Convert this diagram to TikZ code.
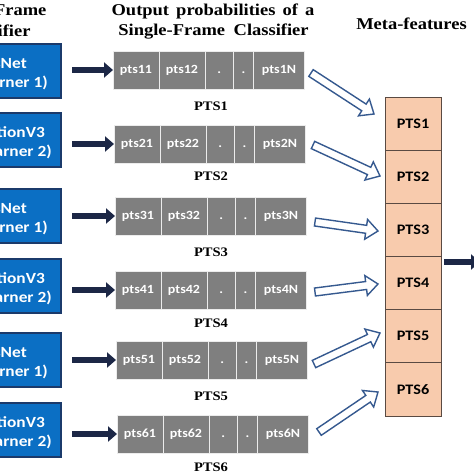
\documentclass[tikz,border=0pt]{standalone}
\usepackage{fontspec}
\setmainfont[FakeStretch=1.12]{Liberation Serif}
\newfontfamily\calfont[FakeStretch=1.12]{Carlito}
\usetikzlibrary{calc,arrows.meta}
\definecolor{boxblue}{HTML}{0B6FC4}
\definecolor{boxedge}{HTML}{1B3A6B}
\definecolor{cellgray}{HTML}{7F7F7F}
\definecolor{peach}{HTML}{F8CBAD}
\definecolor{peachedge}{HTML}{5A4A42}
\definecolor{navy}{HTML}{1C2746}
\definecolor{arrowblue}{HTML}{35598F}
\newcommand{\hollowarr}[2]{%
  \coordinate (#1hb) at ($(#2)!12pt!(#1)$);
  \draw[hollow] ($(#1)!4pt!90:(#2)$) -- ($(#1hb)!4pt!90:(#2)$) -- ($(#1hb)!10pt!90:(#2)$)
    -- (#2) -- ($(#1hb)!10pt!-90:(#2)$) -- ($(#1hb)!4pt!-90:(#2)$) -- ($(#1)!4pt!-90:(#2)$) -- cycle;}
\begin{document}
\begin{tikzpicture}[x=1pt,y=-1pt,
  ttl/.style={font=\bfseries\fontsize{16.5}{18}\selectfont, anchor=base, inner sep=0},
  bbox/.style={draw=boxedge, line width=1.2pt, fill=boxblue, minimum width=121pt, minimum height=54pt, inner sep=0},
  btext/.style={font=\calfont\bfseries\fontsize{15.5}{17}\selectfont, text=white, anchor=base east, inner sep=0},
  cell/.style={draw=white!85!gray, line width=0.8pt, fill=cellgray, text=white, minimum height=38pt, inner sep=0, outer sep=0, anchor=west, text height=9pt, text depth=3pt, font=\calfont\bfseries\fontsize{12.5}{14}\selectfont},
  lbl/.style={font=\bfseries\fontsize{13}{15}\selectfont, anchor=base, inner sep=0},
  meta/.style={draw=peachedge, line width=0.9pt, fill=peach, minimum width=56pt, minimum height=53.17pt, inner sep=0, outer sep=0, anchor=north west, font=\calfont\bfseries\fontsize{14.5}{16}\selectfont},
  blackarrow/.style={draw=navy, line width=5.5pt, -{Triangle[length=9pt,width=15pt]}},
  hollow/.style={draw=arrowblue, line width=1.4pt, fill=white, line join=miter}
]
\useasboundingbox (0,0) rectangle (474,474);
\clip (0,0) rectangle (474,474);
\fill[white] (0,0) rectangle (474,474);

% titles
\node[ttl] (t1) at (-7,15) {Single-Frame};
\node[ttl] (t2) at (-7,36) {Classifier};
\node[ttl] (t3) at (213,15) {Output\hspace{2.5pt} probabilities\hspace{2.5pt} of\hspace{2.5pt} a};
\node[ttl] (t4) at (213.5,35) {Single-Frame\hspace{4pt} Classifier};
\node[ttl] (t5) at (411.5,29) {Meta-features};

% rows
\foreach \i/\by/\ry/\rx/\ly [evaluate=\i as \odd using {int(mod(\i,2))}] in
  {1/71/70/113/110, 2/140/144/114/180, 3/216/216/115/256, 4/286/290/115/327, 5/360/360/116/400, 6/430/434/117/471}{
  \node[bbox] (b\i) at (0.5,\by) {};
  \ifnum\odd=1
    \node[btext] (b\i n) at (27,\by-3) {ResNet};
    \node[btext] (b\i l) at (48,\by+16.5) {(Learner 1)};
  \else
    \node[btext] (b\i n) at (45,\by-3) {InceptionV3};
    \node[btext] (b\i l) at (52,\by+16.5) {(Learner 2)};
  \fi
  \node[cell, minimum width=46pt] (r\i a) at (\rx,\ry) {pts\i1};
  \node[cell, minimum width=46pt] (r\i b) at (r\i a.east) {pts\i2};
  \node[cell, minimum width=28.5pt] (r\i c) at (r\i b.east) {.};
  \node[cell, minimum width=20pt] (r\i d) at (r\i c.east) {.};
  \node[cell, minimum width=51pt] (r\i e) at (r\i d.east) {pts\i N};
  \node[lbl] (p\i) at (211,\ly) {PTS\i};
  \draw[blackarrow] (72,\ry) -- (r\i a.west);
}

% meta-features column
\node[meta] (m1) at (385,97) {PTS1};
\foreach \i [evaluate=\i as \j using {int(\i-1)}] in {2,...,6}{
  \node[meta] (m\i) at (m\j.south west) {PTS\i};
}

% hollow arrows
\coordinate (s1) at (311,73);  \coordinate (h1) at (374,114);
\coordinate (s2) at (313,145); \coordinate (h2) at (380,176);
\coordinate (s3) at (315,222); \coordinate (h3) at (378,231);
\coordinate (s4) at (315,292); \coordinate (h4) at (378,284);
\coordinate (s5) at (314,364); \coordinate (h5) at (380,333);
\coordinate (s6) at (319,432); \coordinate (h6) at (378,392);
\foreach \i in {1,...,6}{\hollowarr{s\i}{h\i}}

% output arrow
\coordinate (mo) at (444,262);
\coordinate (out) at (480,262);
\draw[blackarrow] (mo) -- (out);
\end{tikzpicture}
\end{document}
